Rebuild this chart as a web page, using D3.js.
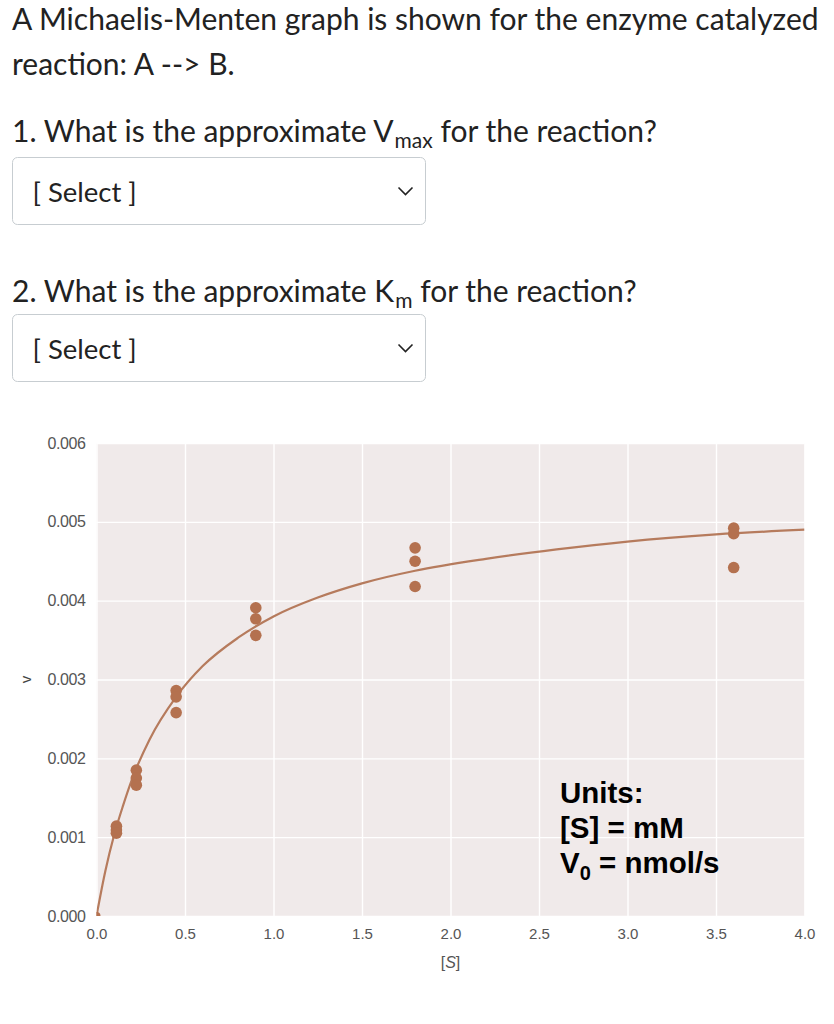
<!DOCTYPE html>
<html>
<head>
<meta charset="utf-8">
<script src="https://cdn.jsdelivr.net/npm/d3@7"></script>
<style>
  body { margin: 0; background: #fff; }
  #chart { display: block; }
</style>
</head>
<body>
<div id="page"></div>
<script>
// substrate concentrations [S] (mM) and three replicate rates
const sConc = [0.1125, 0.225, 0.45, 0.9, 1.8, 3.6]
const vRun1 = [0.00114, 0.00185, 0.00286, 0.00391, 0.00467, 0.00492]
const vRun2 = [0.00109, 0.00175, 0.00278, 0.00377, 0.00450, 0.00485]
const vRun3 = [0.00105, 0.00166, 0.00258, 0.00356, 0.00418, 0.00442]

// fitted curve
const fitS = [0, 0.05, 0.1, 0.15, 0.2, 0.3, 0.45, 0.6, 0.8, 1.0, 1.25, 1.5, 1.8, 2.2, 2.6, 3.0, 3.5, 4.0]
const fitV = [0, 0.00057, 0.00103, 0.0014, 0.00173, 0.00224, 0.00278, 0.00317, 0.00353, 0.0038,
              0.00404, 0.00422, 0.00438, 0.00453, 0.00465, 0.00475, 0.00484, 0.0049]

const xTicks = [0, 0.5, 1.0, 1.5, 2.0, 2.5, 3.0, 3.5, 4.0]
const yTicks = [0, 0.001, 0.002, 0.003, 0.004, 0.005, 0.006]

const svg = d3.select('#page').append('svg')
  .attr('id', 'chart')
  .attr('width', 834)
  .attr('height', 1024)

const ink = '#222'

// question text
const head = svg.append('g')
  .style('font-family', 'Lato, sans-serif')
  .style('font-size', '30px')
  .attr('fill', ink)

head.append('text').attr('x', 12).attr('y', 30)
  .text('A Michaelis-Menten graph is shown for the enzyme catalyzed')
head.append('text').attr('x', 12).attr('y', 75)
  .text('reaction: A --> B.')

function question (yPos, num, sym, sub) {
  const t = head.append('text').attr('x', 12).attr('y', yPos)
  t.append('tspan').text(num + '. What is the approximate ' + sym)
  t.append('tspan').attr('dx', 1).attr('dy', 6).style('font-size', '21px').text(sub)
  t.append('tspan').attr('dy', -6).text(' for the reaction?')
}
question(142, 1, 'V', 'max')
question(302, 2, 'K', 'm')

// select boxes
const sels = svg.selectAll('g.sel')
  .data([157, 314])
  .enter()
  .append('g')
  .attr('class', 'sel')
  .attr('transform', d => `translate(12.5,${d + 0.5})`)

sels.append('rect')
  .attr('width', 413).attr('height', 67)
  .attr('rx', 5)
  .attr('fill', '#fff')
  .attr('stroke', '#c7cdd1')

sels.append('text')
  .attr('x', 20).attr('y', 44)
  .style('font-family', 'Lato, sans-serif')
  .style('font-size', '27.5px')
  .attr('fill', ink)
  .text('[ Select ]')

sels.append('path')
  .attr('d', 'M386,30 L393,37 L400,30')
  .attr('fill', 'none')
  .attr('stroke', ink)
  .attr('stroke-width', 1.6)

// chart
const pLeft = 96.5, pRight = 804.5, pTop = 443, pBottom = 916

const x = d3.scaleLinear().domain([0, 4]).range([pLeft, pRight])
const y = d3.scaleLinear().domain([0, 0.006]).range([pBottom, pTop])

svg.append('rect')
  .attr('x', pLeft).attr('y', pTop)
  .attr('width', pRight - pLeft).attr('height', pBottom - pTop)
  .attr('fill', '#f0eaea')

svg.append('clipPath').attr('id', 'plotclip')
  .append('rect')
  .attr('x', pLeft).attr('y', pTop)
  .attr('width', pRight - pLeft).attr('height', pBottom - pTop)

// grid lines
svg.append('g')
  .attr('transform', `translate(0,${pBottom})`)
  .call(d3.axisBottom(x).tickValues(xTicks).tickSize(-(pBottom - pTop)).tickFormat(''))
  .call(g => g.select('.domain').remove())
  .call(g => g.selectAll('line').attr('stroke', '#fff').attr('stroke-width', 1.4))

svg.append('g')
  .attr('transform', `translate(${pLeft},0)`)
  .call(d3.axisLeft(y).tickValues(yTicks).tickSize(-(pRight - pLeft)).tickFormat(''))
  .call(g => g.select('.domain').remove())
  .call(g => g.selectAll('line').attr('stroke', '#fff').attr('stroke-width', 1.4))

// tick labels
const tickFont = 'Liberation Sans, Arial, sans-serif'
svg.append('g')
  .attr('transform', `translate(0,${pBottom})`)
  .call(d3.axisBottom(x).tickValues(xTicks).tickSize(0).tickPadding(12).tickFormat(d3.format('.1f')))
  .call(g => g.select('.domain').remove())
  .call(g => g.selectAll('text')
    .attr('fill', '#555').style('font-family', tickFont).style('font-size', '15px'))

svg.append('g')
  .attr('transform', `translate(${pLeft},0)`)
  .call(d3.axisLeft(y).tickValues(yTicks).tickSize(0).tickPadding(11).tickFormat(d3.format('.3f')))
  .call(g => g.select('.domain').remove())
  .call(g => g.selectAll('text')
    .attr('fill', '#555').style('font-family', tickFont).style('font-size', '16px')
    .style('letter-spacing', '-0.4px'))

// axis labels
const xLab = svg.append('text')
  .attr('x', (pLeft + pRight) / 2).attr('y', 968)
  .attr('text-anchor', 'middle')
  .attr('fill', '#555')
  .style('font-family', tickFont).style('font-size', '16px')
xLab.append('tspan').text('[')
xLab.append('tspan').style('font-style', 'italic').text('S')
xLab.append('tspan').text(']')

svg.append('text')
  .attr('transform', `translate(31,${(pTop + pBottom) / 2}) rotate(-90)`)
  .attr('text-anchor', 'middle')
  .attr('fill', '#444')
  .style('font-family', tickFont).style('font-size', '15px')
  .text('v')

const plot = svg.append('g').attr('clip-path', 'url(#plotclip)')

// fit curve
const line = d3.line()
  .x((d, i) => x(fitS[i]))
  .y(d => y(d))
  .curve(d3.curveMonotoneX)

plot.append('path')
  .datum(fitV)
  .attr('d', line)
  .attr('fill', 'none')
  .attr('stroke', '#b67b5d')
  .attr('stroke-width', 2.2)

// observed points
const points = []
;[vRun1, vRun2, vRun3].forEach(run => {
  run.forEach((v, i) => points.push({ s: sConc[i], v: v }))
})
points.push({ s: 0, v: 0 })

plot.selectAll('circle')
  .data(points)
  .enter()
  .append('circle')
  .attr('cx', d => x(d.s))
  .attr('cy', d => y(d.v))
  .attr('r', d => d.s === 0 ? 4 : 5.8)
  .attr('fill', '#b4714f')

// units note
const note = svg.append('g')
  .style('font-family', tickFont)
  .style('font-weight', 'bold')
  .style('font-size', '29.5px')
  .attr('fill', '#000')
note.append('text').attr('x', 560).attr('y', 803).text('Units:')
note.append('text').attr('x', 560).attr('y', 838).text('[S] = mM')
const v0 = note.append('text').attr('x', 560).attr('y', 873)
v0.append('tspan').text('V')
v0.append('tspan').attr('dy', 7).style('font-size', '20px').text('0')
v0.append('tspan').attr('dy', -7).text(' = nmol/s')
</script>
</body>
</html>
